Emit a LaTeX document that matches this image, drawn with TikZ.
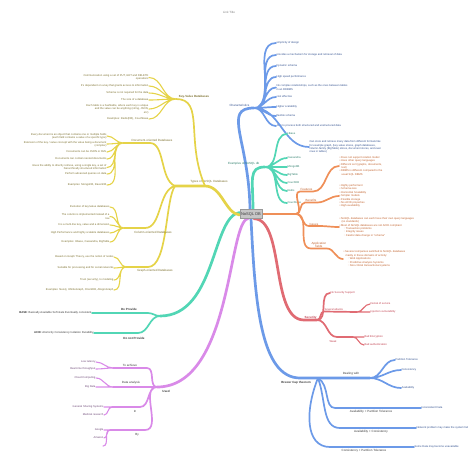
\documentclass[tikz,border=0pt]{standalone}
\usepackage{fontspec}
\setmainfont{Liberation Sans}
\newfontfamily\symfnt{DejaVu Sans}
\usetikzlibrary{positioning,backgrounds}
\definecolor{cyel}{HTML}{E5D348}
\definecolor{cblu}{HTML}{6C9AE8}
\definecolor{ctea}{HTML}{52D6B5}
\definecolor{cora}{HTML}{EF8F58}
\definecolor{cred}{HTML}{E06B73}
\definecolor{cpur}{HTML}{D98AE8}
\definecolor{tyel}{HTML}{7D7130}
\definecolor{tblu}{HTML}{34528F}
\definecolor{ttea}{HTML}{2F7F6C}
\definecolor{tora}{HTML}{C0612C}
\definecolor{tred}{HTML}{C0404E}
\definecolor{tpur}{HTML}{6F4A78}
\definecolor{tdrk}{HTML}{3A3A3A}
\newcommand\lfnt{\fontsize{2.7}{3.4}\selectfont}
\newcommand\bfnt{\fontsize{3}{3.6}\selectfont}
\newcommand\rfnt{\fontsize{4}{4.8}\selectfont}
\newcommand\ob{{\symfnt ◦}}

\begin{document}
\begin{tikzpicture}[x=1pt,y=-1pt,
  lf/.style={font=\lfnt,inner sep=0.3pt},
  lfl/.style={lf,anchor=east,align=right},
  lfr/.style={lf,anchor=west,align=left},
  lb/.style={font=\bfnt,inner sep=0.4pt},
  w1/.style={line width=2.7pt,line cap=round},
  w2/.style={line width=1.7pt,line cap=round},
  w3/.style={line width=1.1pt,line cap=round}]
\useasboundingbox (0,0) rectangle (474,459);

\node[font=\bfnt,text=gray] (ttl) at (229,12) {Link Title};
\node[draw=gray!80,fill=gray!45,font=\rfnt,text=tdrk,inner sep=1.4pt,
      minimum height=9pt] (db) at (251,214) {NoSQL DB};

% characteristics
\coordinate (chH) at (254,108);
\node[lb,text=tblu,anchor=south east] (ch) at (250,107) {Characteristics};
\node[lfr,text=tblu] (c1) at (276,43) {simplicity of design};
\node[lfr,text=tblu] (c2) at (276,55) {provides a mechanism for storage and retrieval of data};
\node[lfr,text=tblu] (c3) at (276,66) {Dynamic schema};
\node[lfr,text=tblu] (c4) at (276,77) {High speed performance};
\node[lfr,text=tblu] (c5) at (276,87.5) {No complex relationships, such as the ones between tables\\in an RDBMS};
\node[lfr,text=tblu] (c6) at (276,97) {cost effective};
\node[lfr,text=tblu] (c7) at (276,107) {Higher scalability};
\node[lfr,text=tblu] (c8) at (276,116) {flexible schema};
\node[lfr,text=tblu] (c9) at (276,126) {Able to process both structured and unstructured data};
\node[lfr,text=tblu] (c10) at (309,147) {Can store and retrieve many data from different formats like\\for example graph, (key-value stores, graph databases,\\column-family (BigTable) stores, document stores, and even\\rows in tables)};
\draw[w2,cblu] (chH) to[out=0,in=180] (c1.west) (chH) to[out=0,in=180] (c2.west)
  (chH) to[out=0,in=180] (c3.west) (chH) to[out=0,in=180] (c4.west)
  (chH) to[out=0,in=180] (c5.west) (chH) to[out=0,in=180] (c6.west)
  (chH) to[out=0,in=180] (c7.west) (chH) to[out=0,in=180] (c8.west)
  (chH) to[out=0,in=180] (c9.west) (chH) to[out=0,in=180] (c10.west);

% examples
\coordinate (exH) at (265,167);
\node[lb,text=ttea,anchor=south east] (ex) at (260,165.5) {Examples of NoSQL db};
\node[lfr,text=ttea] (e1) at (287,134) {Hbase};
\node[lfr,text=ttea] (e2) at (287,158) {Cassandra};
\node[lfr,text=ttea] (e3) at (287,167) {MongoDB};
\node[lfr,text=ttea] (e4) at (287,175) {BigTable};
\node[lfr,text=ttea] (e5) at (287,183) {CouchDB};
\node[lfr,text=ttea] (e6) at (287,191) {Redis};
\node[lfr,text=ttea] (e7) at (287,203) {Couchbase};
\draw[w2,ctea] (exH) to[out=0,in=180] (e1.west) (exH) to[out=0,in=180] (e2.west)
  (exH) to[out=0,in=180] (e3.west) (exH) to[out=0,in=180] (e4.west)
  (exH) to[out=0,in=180] (e5.west) (exH) to[out=0,in=180] (e6.west)
  (exH) to[out=0,in=180] (e7.west);

% features, benefits, issues, fields
\coordinate (oH) at (296,214);
\node[lb,text=tora,anchor=south west] (fe) at (300,191.5) {Features};
\node[lb,text=tora,anchor=south west] (be) at (305,202.5) {Benefits};
\node[lb,text=tora,anchor=south west] (is) at (309,226) {Issues};
\node[lb,text=tora,anchor=south west,align=center] (ap) at (311,248.5) {Application\\fields};
\node[lfr,text=tora] (feL) at (339,166) {\textbullet\ Does not support relation model\\
  \textbullet\ Uses other query languages\\
  \textbullet\ Different sort (graphs, documents,\\\hspace*{2pt}text)\\
  \textbullet\ DBMS is different compared to the\\\hspace*{2pt}usual SQL DBMS};
\node[lfr,text=tora] (beL) at (339,196) {\textbullet\ Highly performant\\
  \textbullet\ Schema-less\\ \textbullet\ Horizontal Scalability\\
  \textbullet\ Simpler models\\ \textbullet\ Flexible storage\\
  \textbullet\ No ACID properties\\ \textbullet\ High availability};
\node[lfr,text=tora] (isL) at (339,227) {\textbullet\ NoSQL databases can each have their own query languages\\
  \hspace*{2pt}(no standards)\\
  \textbullet\ Most of NoSQL databases are not ACID compliant\\
  \hspace*{4pt}\ob\ Transaction problems\\
  \hspace*{4pt}\ob\ Integrity issues\\
  \hspace*{4pt}\ob\ Careful data change in "schema"};
\node[lfr,text=tora] (apL) at (343,259) {\textbullet\ Several companies switched to NoSQL databases\\
  \hspace*{2pt}mainly in these domains of activity:\\
  \hspace*{4pt}\ob\ Web Applications\\
  \hspace*{4pt}\ob\ Predictive Analysis Systems\\
  \hspace*{4pt}\ob\ Non-critical transactional systems};
\draw[w2,cora] (oH) to[out=0,in=180] (fe.south west) -- (fe.south east) to[out=0,in=180] (feL.west);
\draw[w2,cora] (oH) to[out=0,in=180] (be.south west) -- (be.south east) to[out=0,in=180] (beL.west);
\draw[w2,cora] (oH) to[out=0,in=180] (is.south west) -- (is.south east) to[out=0,in=180] (isL.west);
\draw[w2,cora] (oH) to[out=0,in=180] (ap.south west) -- (ap.south east) to[out=0,in=180] (apL.west);

% security
\node[lb,text=tred,font=\bfnt\bfseries,anchor=south west] (sec) at (304,320) {Security};
\node[lfr,text=tred] (nss) at (330,293) {No Security Support};
\node[lf,text=tred,anchor=south west] (sa) at (324,311.5) {Several attacks};
\coordinate (saH) at (357,312);
\node[lfr,text=tred] (dos) at (370,304) {Denial of service};
\node[lfr,text=tred] (inj) at (370,312) {Injection vulnerability};
\coordinate (wkL) at (337,337);
\coordinate (wkH) at (353,337);
\node[lf,text=tred] (wk) at (333,342) {Weak};
\node[lfr,text=tred] (ben) at (364,337) {Bad Encryption};
\node[lfr,text=tred] (bau) at (364,345) {Bad authentication};
\draw[w2,cred] (sec.south east) to[out=0,in=180] (nss.west);
\draw[w2,cred] (sec.south east) to[out=0,in=180] (sa.south west) -- (saH);
\draw[w2,cred] (sec.south east) to[out=0,in=180] (wkL) -- (wkH);
\draw[w3,cred] (saH) to[out=0,in=180] (dos.west) (saH) -- (inj.west)
  (wkH) -- (ben.west) (wkH) to[out=0,in=180] (bau.west);

% brewer cap theorem
\coordinate (brA) at (300,378);
\coordinate (bH) at (318,378);
\coordinate (dwH) at (370,378);
\node[lb,text=tdrk,font=\bfnt\bfseries] (br) at (296,383) {Brewer Cap theorem};
\node[lb,text=tdrk] (dw) at (351,374) {Dealing with};
\node[lfr,text=tblu] (pt) at (395,360) {Partition Tolerance};
\node[lfr,text=tblu] (cn) at (401,370) {Consistency};
\node[lfr,text=tblu] (av) at (401,388) {Availability};
\draw[w2,cblu] (dwH) to[out=0,in=180] (pt.west) (dwH) to[out=0,in=180] (cn.west)
  (dwH) to[out=0,in=180] (av.west);
\coordinate (aptA) at (335,408);
\coordinate (acA) at (340,428);
\coordinate (cptA) at (330,447);
\node[lfr,text=tblu] (icd) at (421,408) {Inconsistent Data};
\node[lfr,text=tblu] (npr) at (416,428) {Network problem may make the system fail};
\node[lfr,text=tblu] (sdu) at (414,447) {Some Data may become unavailable};
\draw[w2,cblu] (bH) .. controls (330,385) and (324,408) .. (aptA) -- (icd.west);
\draw[w2,cblu] (bH) .. controls (326,400) and (322,428) .. (acA) -- (npr.west);
\draw[w2,cblu] (bH) .. controls (305,410) and (305,447) .. (cptA) -- (sdu.west);
\node[lb,text=tdrk] (apt) at (371,412) {Availability + Partition Tolerance};
\node[lb,text=tdrk] (avc) at (371,432) {Availability + Consistency};
\node[lb,text=tdrk] (cpt) at (364,451) {Consistency + Partition Tolerance};

% used
\coordinate (uH) at (157,387);
\node[lb,text=tdrk,font=\bfnt\bfseries] (us) at (166,391) {Used};
\coordinate (taR) at (147,368);
\coordinate (taL) at (113,368);
\coordinate (daL) at (113,387);
\coordinate (inR) at (140,407);
\coordinate (inL) at (112,407);
\coordinate (byR) at (145,430);
\coordinate (byL) at (110,430);
\draw[w2,cpur] (uH) to[out=180,in=0] (taR) -- (taL) (uH) -- (daL)
  (uH) to[out=180,in=0] (inR) -- (inL) (uH) to[out=180,in=0] (byR) -- (byL);
\node[lb,text=tdrk] (ta) at (130,365) {To achieve};
\node[lb,text=tdrk] (da) at (131,383) {Data analysis};
\node[lb,text=tdrk] (inn) at (135,411) {In};
\node[lb,text=tdrk] (by) at (137,435) {By};
\node[lfl,text=tpur] (lat) at (96,362) {Low latency};
\node[lfl,text=tpur] (rtt) at (96,369) {Real-time throughput};
\node[lfl,text=tpur] (clc) at (96,378) {Cloud Computing};
\node[lfl,text=tpur] (bgd) at (96,387) {Big Data};
\node[lfl,text=tpur] (gss) at (104,407) {General Sharing Systems};
\node[lfl,text=tpur] (mre) at (104,415) {Medical research};
\node[lfl,text=tpur] (ggl) at (104,430) {Google};
\node[lfl,text=tpur] (amz) at (104,438) {Amazon};
\coordinate (by3) at (103,446);
\draw[w3,cpur] (taL) to[out=180,in=0] (lat.east) (taL) to[out=180,in=0] (rtt.east)
  (daL) to[out=180,in=0] (clc.east) (daL) -- (bgd.east)
  (inL) -- (gss.east) (inL) to[out=180,in=0] (mre.east)
  (byL) -- (ggl.east) (byL) to[out=180,in=0] (amz.east) (byL) to[out=180,in=0] (by3);

% provide
\coordinate (tH) at (160,316);
\coordinate (dpR) at (148,313);
\coordinate (dnR) at (138,333);
\node[lfl,font=\fontsize{2.8}{3.4}\selectfont,text=tdrk] (base) at (92,313) {\textbf{BASE}: Basically Available Soft state Eventually consistent};
\node[lfl,font=\fontsize{2.8}{3.4}\selectfont,text=tdrk] (acid) at (94,333) {\textbf{ACID}: Atomicity Consistency Isolation Durability};
\draw[w2,ctea] (tH) to[out=180,in=0] (dpR) -- (base.east) (tH) to[out=180,in=0] (dnR) -- (acid.east);
\node[lb,text=tdrk,font=\bfnt\bfseries] (dp) at (129,309) {Do Provide};
\node[lb,text=tdrk,font=\bfnt\bfseries] (dnp) at (134,338) {Do not Provide};

% types
\coordinate (tyH) at (175,186);
\coordinate (tyR) at (205,186);
\node[lb,text=tyel] (typ) at (209,182) {Types of NoSQL Databases};
\coordinate (kvH) at (176,99);
\coordinate (docH) at (123,143);
\coordinate (docR) at (150,143);
\coordinate (colH) at (124,228);
\coordinate (colR) at (145,228);
\coordinate (grH) at (126,267);
\coordinate (grR) at (148,267);
\draw[w2,cyel] (tyR) .. controls (185,140) and (205,99) .. (kvH);
\draw[w2,cyel] (tyH) .. controls (160,180) and (165,143) .. (docR) -- (docH);
\draw[w2,cyel] (tyH) .. controls (158,190) and (162,228) .. (colR) -- (colH);
\draw[w2,cyel] (tyH) .. controls (165,200) and (168,267) .. (grR) -- (grH);
\node[lb,text=tyel,font=\bfnt\bfseries] (kv) at (194,96.5) {Key-Value Databases};
\node[lb,text=tyel] (doc) at (152,140) {Document-oriented Databases};
\node[lb,text=tyel] (col) at (153,232) {Column-oriented Databases};
\node[lb,text=tyel] (gr) at (155,270.5) {Graph-oriented Databases};

\node[lfl,text=tyel] (kv1) at (149,77.5) {Communication using a set of PUT, GET and DELETE\\operations};
\node[lfl,text=tyel] (kv2) at (149,86) {It's dependent on a key that grants access to information};
\node[lfl,text=tyel] (kv3) at (149,93) {Schema is not required for the data};
\node[lfl,text=tyel] (kv4) at (149,100) {The size of a database};
\node[lfl,text=tyel] (kv5) at (149,109) {Each table is a hashtable, where each key is unique\\and the value can be anything (string, JSON,\\etc)};
\node[lfl,text=tyel] (kv6) at (149,119) {Examples: Redis(DB), Couchbase};
\draw[w3,cyel] (kvH) to[out=180,in=0] (kv1.east) (kvH) to[out=180,in=0] (kv2.east)
  (kvH) to[out=180,in=0] (kv3.east) (kvH) to[out=180,in=0] (kv4.east)
  (kvH) to[out=180,in=0] (kv5.east) (kvH) to[out=180,in=0] (kv6.east);

\node[lfl,text=tyel] (d1) at (107,136) {Every document is an object that contains one or multiple fields\\(each field contains a value of a specific type)};
\node[lfl,text=tyel] (d2) at (107,144) {Extension of the key / value concept with the value being a document\\(complex)};
\node[lfl,text=tyel] (d3) at (107,152) {Documents can be JSON or XML};
\node[lfl,text=tyel] (d4) at (107,159) {Documents can contain nested documents};
\node[lfl,text=tyel] (d5) at (107,167.5) {Gives the ability to directly retrieve, using a single key, a set of\\hierarchically structured information};
\node[lfl,text=tyel] (d6) at (107,174) {Perform advanced queries on data};
\node[lfl,text=tyel] (d7) at (107,185) {Examples: MongoDB, RavenDB};
\draw[w3,cyel] (docH) to[out=180,in=0] (d1.east) (docH) to[out=180,in=0] (d2.east)
  (docH) to[out=180,in=0] (d3.east) (docH) to[out=180,in=0] (d4.east)
  (docH) to[out=180,in=0] (d5.east) (docH) to[out=180,in=0] (d6.east)
  (docH) to[out=180,in=0] (d7.east);

\node[lfl,text=tyel] (o1) at (110,207) {Evolution of key/value databases};
\node[lfl,text=tyel] (o2) at (110,216.5) {The column is implemented instead of a\\row};
\node[lfl,text=tyel] (o3) at (110,225) {It is a multi-line key, value and a dimension};
\node[lfl,text=tyel] (o4) at (110,233) {High Performance and highly scalable databases};
\node[lfl,text=tyel] (o5) at (110,242) {Examples: Hbase, Cassandra, BigTable};
\draw[w3,cyel] (colH) to[out=180,in=0] (o1.east) (colH) to[out=180,in=0] (o2.east)
  (colH) to[out=180,in=0] (o3.east) (colH) to[out=180,in=0] (o4.east)
  (colH) to[out=180,in=0] (o5.east);

\node[lfl,text=tyel] (g1) at (114,257) {Based on Graph Theory, use the notion of nodes};
\node[lfl,text=tyel] (g2) at (114,268) {Suitable for processing and for social networks};
\node[lfl,text=tyel] (g3) at (114,280) {Trust (security), to modeling};
\node[lfl,text=tyel] (g4) at (114,290) {Examples: Neo4j, InfiniteGraph, OrientDB, AllegroGraph};
\draw[w3,cyel] (grH) to[out=180,in=0] (g1.east) (grH) to[out=180,in=0] (g2.east)
  (grH) to[out=180,in=0] (g3.east) (grH) to[out=180,in=0] (g4.east);

% main branches go under the root box
\begin{pgfonlayer}{background}
\draw[w1,cblu] ([xshift=-1pt]db.north) .. controls (249,140) and (222,108) .. (chH);
\draw[w1,ctea] ([xshift=2pt]db.north) .. controls (253,180) and (248,167) .. (exH);
\draw[w1,cora] (db.east) -- (oH);
\draw[w1,cred] ([xshift=3pt]db.south) .. controls (285,219) and (270,320) .. (sec.south west) -- (sec.south east);
\draw[w1,cblu] (db.south) .. controls (255,300) and (260,378) .. (brA) -- (dwH);
\draw[w1,cpur] ([xshift=-3pt]db.south) .. controls (228,221) and (232,387) .. (uH);
\draw[w1,ctea] ([yshift=1.5pt]db.west) .. controls (212,216) and (216,316) .. (tH);
\draw[w1,cyel] ([yshift=-1pt]db.west) .. controls (225,213) and (222,186) .. (tyR) -- (tyH);
\end{pgfonlayer}
\end{tikzpicture}
\end{document}
